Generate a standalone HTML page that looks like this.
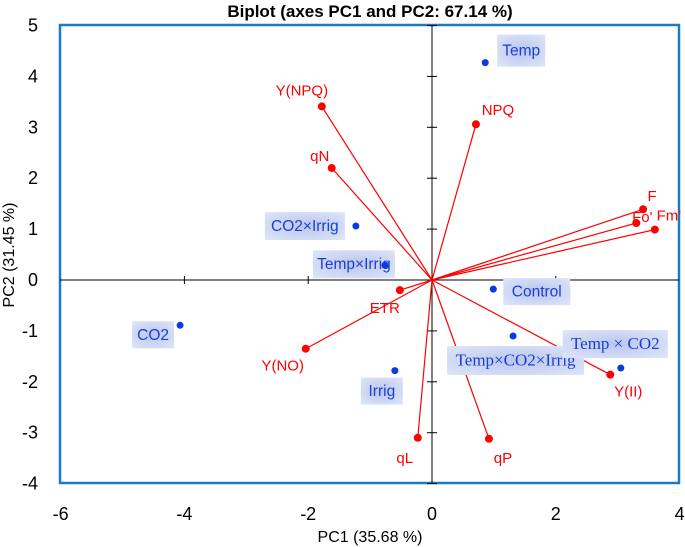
<!DOCTYPE html>
<html><head><meta charset="utf-8"><style>
body{margin:0;background:#fff;}
svg{display:block;font-family:"Liberation Sans",sans-serif;}
</style></head><body>
<svg id="chart" width="685" height="547" viewBox="0 0 685 547">
<defs>
<radialGradient id="lbl" cx="50%" cy="50%" r="70%">
<stop offset="0%" stop-color="#b9c6ee"/><stop offset="100%" stop-color="#dfe6f8"/>
</radialGradient>
</defs>
<text x="370" y="17" text-anchor="middle" font-size="17" font-weight="bold">Biplot (axes PC1 and PC2: 67.14 %)</text>
<rect x="60" y="25" width="619" height="458" fill="none" stroke="#1a7cc9" stroke-width="2.5"/>
<g id="axes"></g>
<g id="vectors"></g>
<g id="obs"></g>
<text x="370" y="542" text-anchor="middle" font-size="16">PC1 (35.68 %)</text>
<text x="14" y="255" text-anchor="middle" font-size="16" transform="rotate(-90 14 255)">PC2 (31.45 %)</text>
</svg>
<script>
const xTicks=[-6,-4,-2,0,2,4];
const yTicks=[5,4,3,2,1,0,-1,-2,-3,-4];
const varNames=["Y(NPQ)","qN","NPQ","F","Fo'","Fm'","ETR","Y(NO)","Y(II)","qL","qP"];
const varX=[-1.78,-1.62,0.71,3.41,3.30,3.60,-0.52,-2.04,2.88,-0.23,0.92];
const varY=[3.41,2.20,3.06,1.39,1.12,0.99,-0.20,-1.35,-1.86,-3.10,-3.12];
const obsNames=["Temp","CO2×Irrig","Temp×Irrig","Control","CO2","Irrig","Temp×CO2×Irrig","Temp × CO2"];
const obsX=[0.86,-1.23,-0.76,0.99,-4.07,-0.60,1.31,3.05];
const obsY=[4.27,1.06,0.29,-0.18,-0.89,-1.78,-1.10,-1.73];
// label styling (pixel offsets from mark)
const varLblOff=[[-20,-16],[-12,-12],[22,-14],[9,-13],[6,-6],[14,-14],[-15,18],[-23,17],[18,17],[-13,20],[14,19]];
const obsLblBox=[[12,-28,48,32],[-91,-14,80,28],[-72,-15,82,28],[10,-11,67,27],[-48,-4,42,27],[-34,7,42,27],[-66,10,137,29],[-58,-38,105,28]];
const obsSerif=[false,false,false,false,false,false,true,true];

const sx=v=>432+v*61.9, sy=v=>280-v*50.9;
const NS="http://www.w3.org/2000/svg";
function mk(tag,attrs,parent){const e=document.createElementNS(NS,tag);for(const k in attrs)e.setAttribute(k,attrs[k]);parent.appendChild(e);return e;}
const ax=document.getElementById('axes');
let l=mk('line',{x1:60,x2:679,y1:sy(0),y2:sy(0),stroke:'#000','stroke-width':1},ax);


l=mk('line',{x1:sx(0),x2:sx(0),y1:25,y2:483,stroke:'#000','stroke-width':1},ax);


xTicks.forEach(t=>{
 const tx=mk('text',{x:sx(t),y:520,'text-anchor':'middle','font-size':18},ax);tx.textContent=t;
 
 
 if(t>-6&&t<4){const tk=mk('line',{x1:sx(t),x2:sx(t),y1:sy(0)-4,y2:sy(0)+4,stroke:'#000'},ax);
 
 }
});
yTicks.forEach(t=>{
 const tx=mk('text',{x:38,y:sy(t)+6,'text-anchor':'end','font-size':18},ax);tx.textContent=t;
 
 
 const tk=mk('line',{x1:sx(0)-5,x2:sx(0)+5,y1:sy(t),y2:sy(t),stroke:'#000'},ax);
 
 
});
const vg=document.getElementById('vectors');
varNames.forEach((n,i)=>{
 const x=sx(varX[i]),y=sy(varY[i]);
 const ln=mk('line',{x1:sx(0),y1:sy(0),x2:x,y2:y,stroke:'#f00','stroke-width':1.2},vg);
 
 
 const c=mk('circle',{cx:x,cy:y,r:4,fill:'#f00'},vg);
 
 
 const t=mk('text',{x:x+varLblOff[i][0],y:y+varLblOff[i][1]+5,'text-anchor':'middle','font-size':15,fill:'#f00'},vg);t.textContent=n;
 
 
});
const og=document.getElementById('obs');
obsNames.forEach((n,i)=>{
 const x=sx(obsX[i]),y=sy(obsY[i]);const b=obsLblBox[i];
 const r=mk('rect',{x:x+b[0],y:y+b[1],width:b[2],height:b[3],fill:'url(#lbl)'},og);
 
 
 const t=mk('text',{x:x+b[0]+b[2]/2,y:y+b[1]+b[3]/2+5,'text-anchor':'middle','font-size':obsSerif[i]?17:15.5,fill:'#1a3fd6','font-family':obsSerif[i]?'"Liberation Serif",serif':'"Liberation Sans",sans-serif'},og);t.textContent=n;
 
 
 const c=mk('circle',{cx:x,cy:y,r:3.5,fill:'#0a3be0'},og);
 
 
});
</script>
</body></html>
